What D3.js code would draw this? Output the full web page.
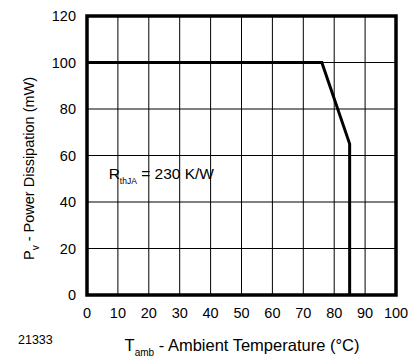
<!DOCTYPE html>
<html><head><meta charset="utf-8">
<script src="https://cdn.jsdelivr.net/npm/d3@7"></script>
<style>body{margin:0;background:#fff}svg{display:block;font-family:"Liberation Sans",Arial,sans-serif}</style>
</head><body>
<svg id="c" width="415" height="361"></svg>
<script>
const xTicks = [0,10,20,30,40,50,60,70,80,90,100];
const yTicks = [0,20,40,60,80,100,120];
const tempC = [0, 76, 85, 85];
const powerMW = [100, 100, 65, 0];

const svg = d3.select("#c");
const x = d3.scaleLinear().domain([0,100]).range([87,396]);
const y = d3.scaleLinear().domain([0,120]).range([295,16]);

// grid
svg.append("g").selectAll("line").data(xTicks.slice(1,-1)).join("line")
  .attr("x1",d=>x(d)).attr("x2",d=>x(d)).attr("y1",y(120)).attr("y2",y(0))
  .attr("stroke","#000").attr("stroke-width",1);
svg.append("g").selectAll("line").data(yTicks.slice(1,-1)).join("line")
  .attr("y1",d=>y(d)).attr("y2",d=>y(d)).attr("x1",x(0)).attr("x2",x(100))
  .attr("stroke","#000").attr("stroke-width",1);

// annotation
const ann = svg.append("text").attr("x",x(7)).attr("y",y(50)).attr("font-size",15.5).attr("fill","#000");
ann.append("tspan").text("R");
ann.append("tspan").attr("font-size",8.5).attr("dy",5).text("thJA");
ann.append("tspan").attr("dy",-5).text(" = 230 K/W");

// curve
const line = d3.line().x((d,i)=>x(tempC[i])).y((d,i)=>y(powerMW[i]));
svg.append("path").datum(tempC).attr("d",line).attr("fill","none")
  .attr("stroke","#000").attr("stroke-width",3).attr("stroke-linejoin","miter");

// frame
svg.append("rect").attr("x",x(0)).attr("y",y(120)).attr("width",x(100)-x(0)).attr("height",y(0)-y(120))
  .attr("fill","none").attr("stroke","#000").attr("stroke-width",3.5);

// tick labels
svg.append("g").selectAll("text").data(xTicks).join("text")
  .attr("x",d=>x(d)).attr("y",318).attr("text-anchor","middle").attr("font-size",14.5).text(d=>d);
svg.append("g").selectAll("text").data(yTicks).join("text")
  .attr("x",76).attr("y",d=>y(d)+5).attr("text-anchor","end").attr("font-size",14.5).text(d=>d);

// x title
const xt = svg.append("text").attr("x",242).attr("y",351).attr("text-anchor","middle").attr("font-size",16.5);
xt.append("tspan").text("T");
xt.append("tspan").attr("font-size",10).attr("dy",5).text("amb");
xt.append("tspan").attr("dy",-5).text(" - Ambient Temperature (°C)");

// y title
const yt = svg.append("text").attr("transform","translate(34,260) rotate(-90)").attr("text-anchor","start").attr("font-size",14.5);
yt.append("tspan").text("P");
yt.append("tspan").attr("font-size",10).attr("dy",5).text("v");
yt.append("tspan").attr("dy",-5).text(" - Power Dissipation (mW)");

svg.append("text").attr("x",18).attr("y",344).attr("font-size",12.5).text("21333");
</script>
</body></html>
